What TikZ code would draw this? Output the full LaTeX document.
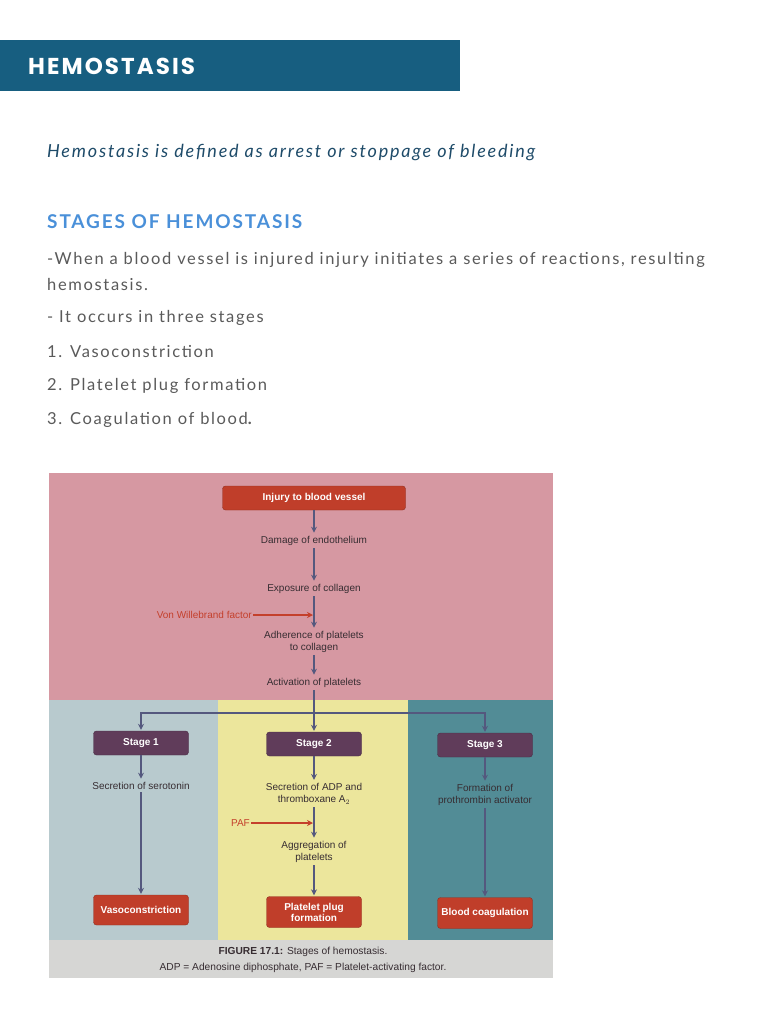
\documentclass[tikz,border=0pt]{standalone}
\usepackage{fontspec}
\setmainfont{Liberation Sans}
\newfontfamily\headfont[LetterSpace=9]{Poppins}
\newfontfamily\pagefont[LetterSpace=10]{Lato}
\usetikzlibrary{arrows, arrows.meta, positioning, calc}
\definecolor{banner}{RGB}{23, 94, 128}
\definecolor{deftext}{RGB}{30, 75, 105}
\definecolor{stagetitle}{RGB}{74, 144, 217}
\definecolor{bodygray}{RGB}{90, 90, 90}
\definecolor{pinkband}{RGB}{214, 152, 162}
\definecolor{bluecol}{RGB}{184, 202, 206}
\definecolor{yellowcol}{RGB}{236, 230, 156}
\definecolor{tealcol}{RGB}{82, 140, 150}
\definecolor{captionband}{RGB}{214, 214, 212}
\definecolor{boxred}{RGB}{192, 62, 42}
\definecolor{boxpurple}{RGB}{96, 60, 90}
\definecolor{figtext}{RGB}{55, 45, 50}
\definecolor{arrowblue}{RGB}{84, 88, 126}
\definecolor{factorred}{RGB}{196, 64, 44}

\begin{document}
\begin{tikzpicture}[
    x=1pt, y=-1pt,
    redbox/.style={rectangle, rounded corners=3pt, fill=boxred, draw=boxred!75!black, text=white, font=\fontsize{10}{11.5}\selectfont\bfseries, align=center, minimum width=95pt, minimum height=25pt, inner sep=2pt},
    stagebox/.style={redbox, fill=boxpurple, draw=boxpurple!75!black, minimum height=24pt},
    steptext/.style={font=\fontsize{10}{12}\selectfont, text=figtext, align=center, inner sep=2.5pt},
    factor/.style={font=\fontsize{10}{12}\selectfont, text=factorred, inner sep=1pt},
    pageline/.style={anchor=west, inner sep=0pt, text=bodygray, font=\pagefont\fontsize{16.5}{19}\selectfont},
    arrow/.style={->, >={Stealth[length=6pt, width=6pt]}, line width=1.2pt, draw=arrowblue, shorten >=1pt},
    redarrow/.style={->, >={Stealth[length=6pt, width=6pt]}, line width=1.2pt, draw=factorred}
]
\useasboundingbox (0,0) rectangle (768,1024);
\fill[white] (0,0) rectangle (768,1024);

% page heading
\fill[banner] (0,40) rectangle (460,91);
\node[anchor=west, inner sep=0pt, text=white, font=\headfont\fontsize{23}{27}\selectfont\bfseries] (title) at (28,66) {HEMOSTASIS};

\node[anchor=west, inner sep=0pt, text=deftext, font=\pagefont\fontsize{18}{21}\selectfont\itshape] (definition) at (47,153) {Hemostasis is defined as arrest or stoppage of bleeding};

\node[anchor=west, inner sep=0pt, text=stagetitle, font=\pagefont\fontsize{19}{22}\selectfont\bfseries] (stages) at (47,222) {STAGES OF HEMOSTASIS};

\node[pageline] (line1) at (47,260) {-When a blood vessel is injured injury initiates a series of reactions, resulting};
\node[pageline] (line2) at (47,284) {hemostasis.};
\node[pageline] (line3) at (47,318) {- It occurs in three stages};
\node[pageline] (line4) at (47,352) {1. Vasoconstriction};
\node[pageline] (line5) at (47,386) {2. Platelet plug formation};
\node[pageline] (line6) at (47,420) {3. Coagulation of blood\textbf{.}};

% figure background
\fill[pinkband] (49,473) rectangle (553,700);
\fill[bluecol] (49,700) rectangle (218,940);
\fill[yellowcol] (218,700) rectangle (408,940);
\fill[tealcol] (408,700) rectangle (553,940);
\fill[captionband] (49,940) rectangle (553,978);

% common pathway
\node[redbox, minimum width=183pt, minimum height=24pt] (injury) at (314,498) {Injury to blood vessel};
\node[steptext] (damage) at (314,541) {Damage of endothelium};
\node[steptext] (exposure) at (314,589) {Exposure of collagen};
\node[steptext] (adherence) at (314,642) {Adherence of platelets\\to collagen};
\node[steptext] (activation) at (314,683) {Activation of platelets};
\node[factor, anchor=east] (vwf) at (253,615) {Von Willebrand factor};
\coordinate (vwfend) at (313,615);

\draw[arrow] (injury) -- (damage);
\draw[arrow] (damage) -- (exposure);
\draw[arrow] (exposure) -- (adherence);
\draw[arrow] (adherence) -- (activation);
\draw[redarrow] (vwf.east) -- (vwfend);

% three stages
\node[stagebox] (stage1) at (141,743) {Stage 1};
\node[stagebox] (stage2) at (314,744) {Stage 2};
\node[stagebox] (stage3) at (485,745) {Stage 3};
\coordinate (split) at (314,713);

\draw[line width=1.2pt, arrowblue] (activation) -- (split);
\draw[arrow] (split) -- (stage2);
\draw[arrow] (split) -| (stage1);
\draw[arrow] (split) -| (stage3);

\node[steptext] (serotonin) at (141,786) {Secretion of serotonin};
\node[steptext] (adp) at (314,794) {Secretion of ADP and\\thromboxane A$_2$};
\node[steptext] (prothrombin) at (485,795) {Formation of\\prothrombin activator};
\node[steptext] (aggregation) at (314,852) {Aggregation of\\platelets};
\node[factor, anchor=east] (paf) at (251,823) {PAF};
\coordinate (pafend) at (313,823);

\node[redbox, minimum height=30pt] (vaso) at (141,910) {Vasoconstriction};
\node[redbox, minimum height=31pt, font=\fontsize{10}{11}\selectfont\bfseries] (plug) at (314,912) {Platelet plug\\formation};
\node[redbox, minimum height=31pt] (coag) at (485,913) {Blood coagulation};

\draw[arrow] (stage1) -- (serotonin);
\draw[arrow] (stage2) -- (adp);
\draw[arrow] (stage3) -- (prothrombin);
\draw[arrow] (serotonin) -- (vaso);
\draw[arrow] (adp) -- (aggregation);
\draw[redarrow] (paf.east) -- (pafend);
\draw[arrow] (aggregation) -- (plug);
\draw[arrow] (prothrombin) -- (coag);

% caption
\node[steptext, font=\fontsize{10.2}{12}\selectfont] (caption1) at (303,952) {\textbf{FIGURE 17.1:} Stages of hemostasis.};
\node[steptext, font=\fontsize{10.2}{12}\selectfont] (caption2) at (303,968) {ADP = Adenosine diphosphate, PAF = Platelet-activating factor.};

\end{tikzpicture}
\end{document}
